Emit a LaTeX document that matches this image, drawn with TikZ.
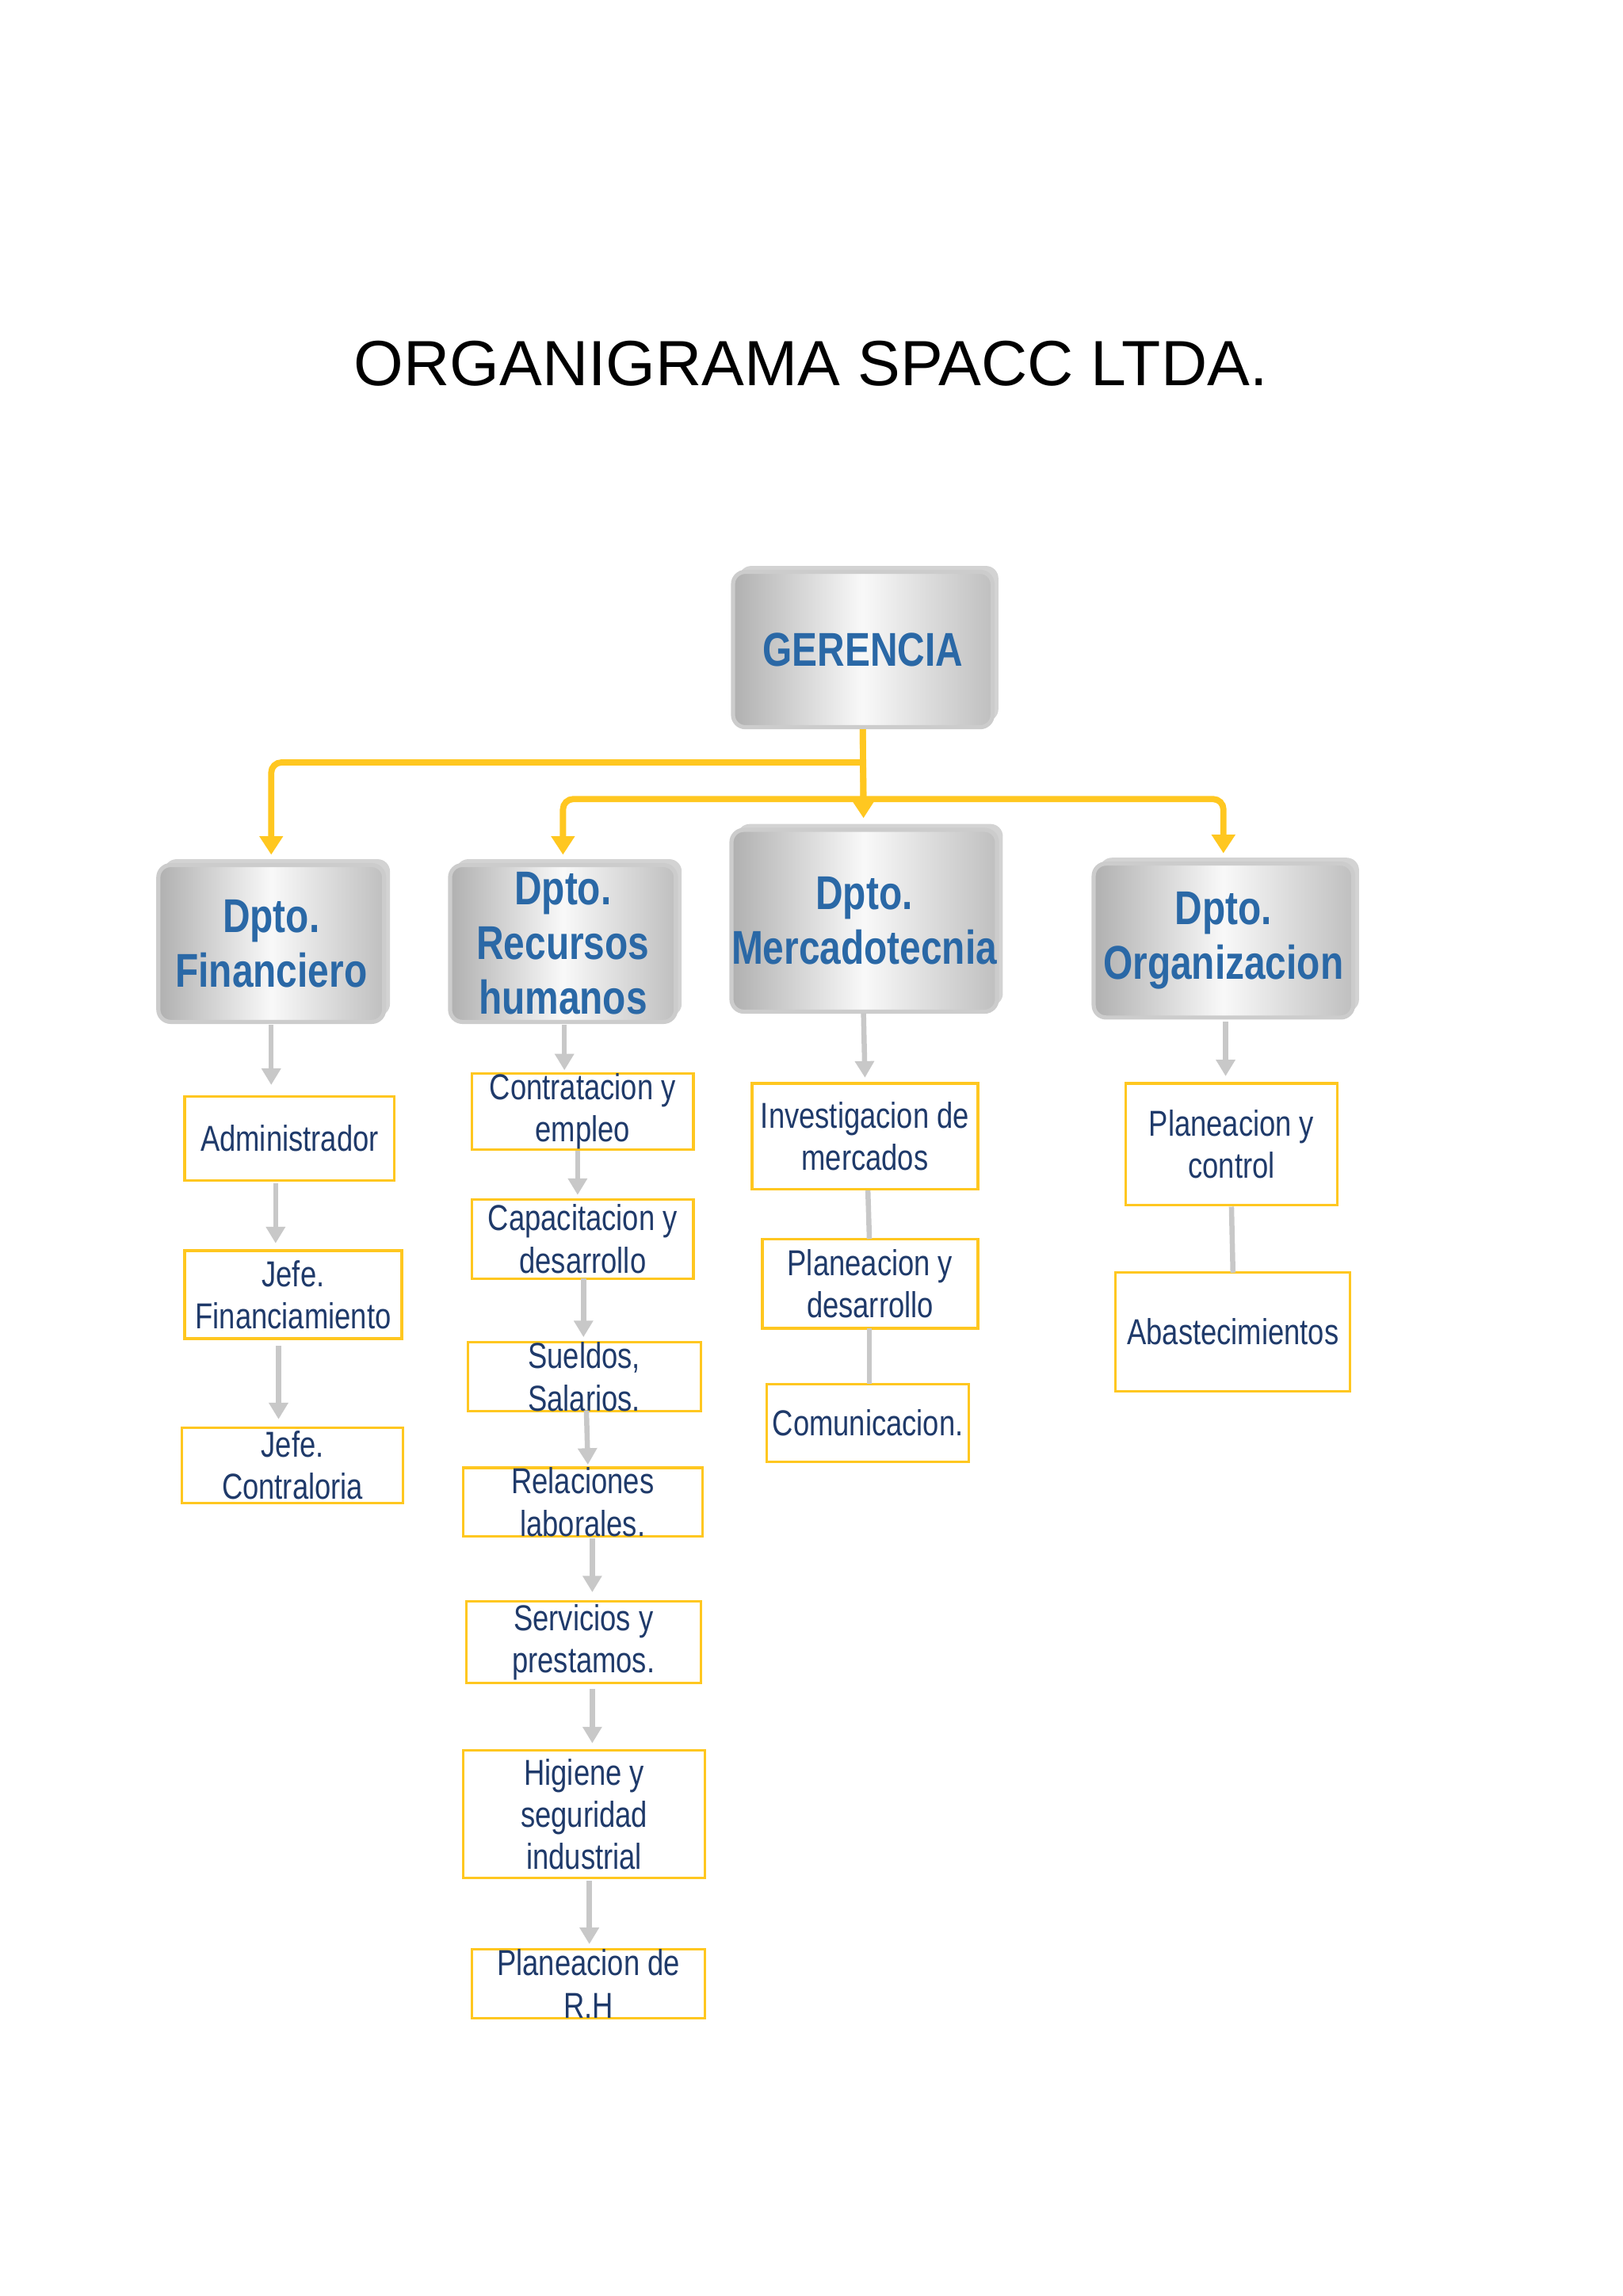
\documentclass[tikz,border=0pt]{standalone}
\usepackage{fontspec}
\setmainfont{Liberation Sans}
\newfontfamily\cond[FakeStretch=0.8]{Liberation Sans}
\usetikzlibrary{shadows,arrows.meta}
\definecolor{gold}{HTML}{FFC720}
\definecolor{deptblue}{HTML}{2A68A6}
\definecolor{subblue}{HTML}{1F3A6A}
\definecolor{conn}{HTML}{C8C8C8}
\begin{document}
\begin{tikzpicture}[x=0.05cm,y=-0.05cm,
  dept/.style={draw=gray!40,line width=4,rounded corners=12,left color=gray!62,right color=gray!50,middle color=gray!5,
    drop shadow={shadow xshift=4,shadow yshift=-4,opacity=0.35},text=deptblue,font=\cond\bfseries\fontsize{46}{53}\selectfont,align=center,inner sep=0},
  sub/.style={draw=gold,line width=2.5,fill=white,text=subblue,font=\cond\fontsize{35}{41}\selectfont,align=center,inner sep=0},
  yl/.style={gold,line width=6,rounded corners=10},
  ya/.style={yl,-{Triangle[length=18,width=22]}},
  gl/.style={conn,line width=5},
  ga/.style={gl,-{Triangle[length=16,width=18]}}]
\useasboundingbox (0,0) rectangle (1107,1566);
\node[font=\fontsize{62}{70}\selectfont] (title) at (553,248) {ORGANIGRAMA SPACC LTDA.};
\tikzset{wh/.style 2 args={minimum width={#1*0.05cm},minimum height={#2*0.05cm}}}
\node[dept,wh={177}{106}] (ger) at (588.5,443) {GERENCIA};
\node[dept,wh={154}{107}] (fin) at (185,643.5) {Dpto.\\Financiero};
\node[dept,wh={154}{107}] (rh) at (384,643.5) {Dpto.\\Recursos\\humanos};
\node[dept,wh={179}{124}] (mer) at (589.5,628) {Dpto.\\Mercadotecnia};
\node[dept,wh={177}{105}] (org) at (834.5,641.5) {Dpto.\\Organizacion};
% col1
\node[sub,wh={143}{57}] (adm) at (197.5,776.5) {Administrador};
\node[sub,wh={148}{60}] (jfin) at (200,883) {Jefe.\\Financiamiento};
\node[sub,wh={151}{51}] (jcon) at (199.5,999.5) {Jefe.\\Contraloria};
% col2
\node[sub,wh={151}{50}] (c1) at (397.5,758) {Contratacion y\\empleo};
\node[sub,wh={151}{54}] (c2) at (397.5,845) {Capacitacion y\\desarrollo};
\node[sub,wh={159}{44}] (c3) at (398.5,939) {Sueldos,\\Salarios.};
\node[sub,wh={163}{45}] (c4) at (397.5,1024.5) {Relaciones\\laborales.};
\node[sub,wh={160}{56}] (c5) at (398,1120) {Servicios y\\prestamos.};
\node[sub,wh={165}{87}] (c6) at (398.5,1237.5) {Higiene y\\seguridad\\industrial};
\node[sub,wh={159}{46}] (c7) at (401.5,1353) {Planeacion de\\R.H};
% col3
\node[sub,wh={154}{72}] (m1) at (590,775) {Investigacion de\\mercados};
\node[sub,wh={147}{61}] (m2) at (593.5,875.5) {Planeacion y\\desarrollo};
\node[sub,wh={138}{53}] (m3) at (592,970.5) {Comunicacion.};
% col4
\node[sub,wh={144}{83}] (o1) at (840,780.5) {Planeacion y\\control};
\node[sub,wh={160}{81}] (o2) at (841,908.5) {Abastecimientos};
% yellow connectors
\coordinate (j1) at (589,520);
\coordinate (j2) at (589,545);
\draw[yl] (ger.south) -- (j2);
\draw[ya] (j1) -| ([yshift=8]fin.north);
\draw[ya] (j2) -| ([yshift=8]rh.north);
\draw[ya] (j2) -| ([yshift=8]org.north);
\draw[ya] (ger.south) -- (589,558);
% gray connectors
\draw[ga] (185,699) -- (185,740);
\draw[ga] (188,807) -- (188,848);
\draw[ga] (190,918) -- (190,968);
\draw[ga] (385,699) -- (385,730);
\draw[ga] (394,785) -- (394,815);
\draw[ga] (398,872) -- (398,912);
\draw[ga] (400,962) -- (401,999);
\draw[ga] (404,1049) -- (404,1086);
\draw[ga] (404,1152) -- (404,1189);
\draw[ga] (402,1283) -- (402,1326);
\draw[ga] (589,691) -- (590,735);
\draw[gl] (592,812) -- (593,845);
\draw[gl] (593,906) -- (593,944);
\draw[ga] (836,697) -- (836,734);
\draw[gl] (840,823) -- (841,868);
\end{tikzpicture}
\end{document}
